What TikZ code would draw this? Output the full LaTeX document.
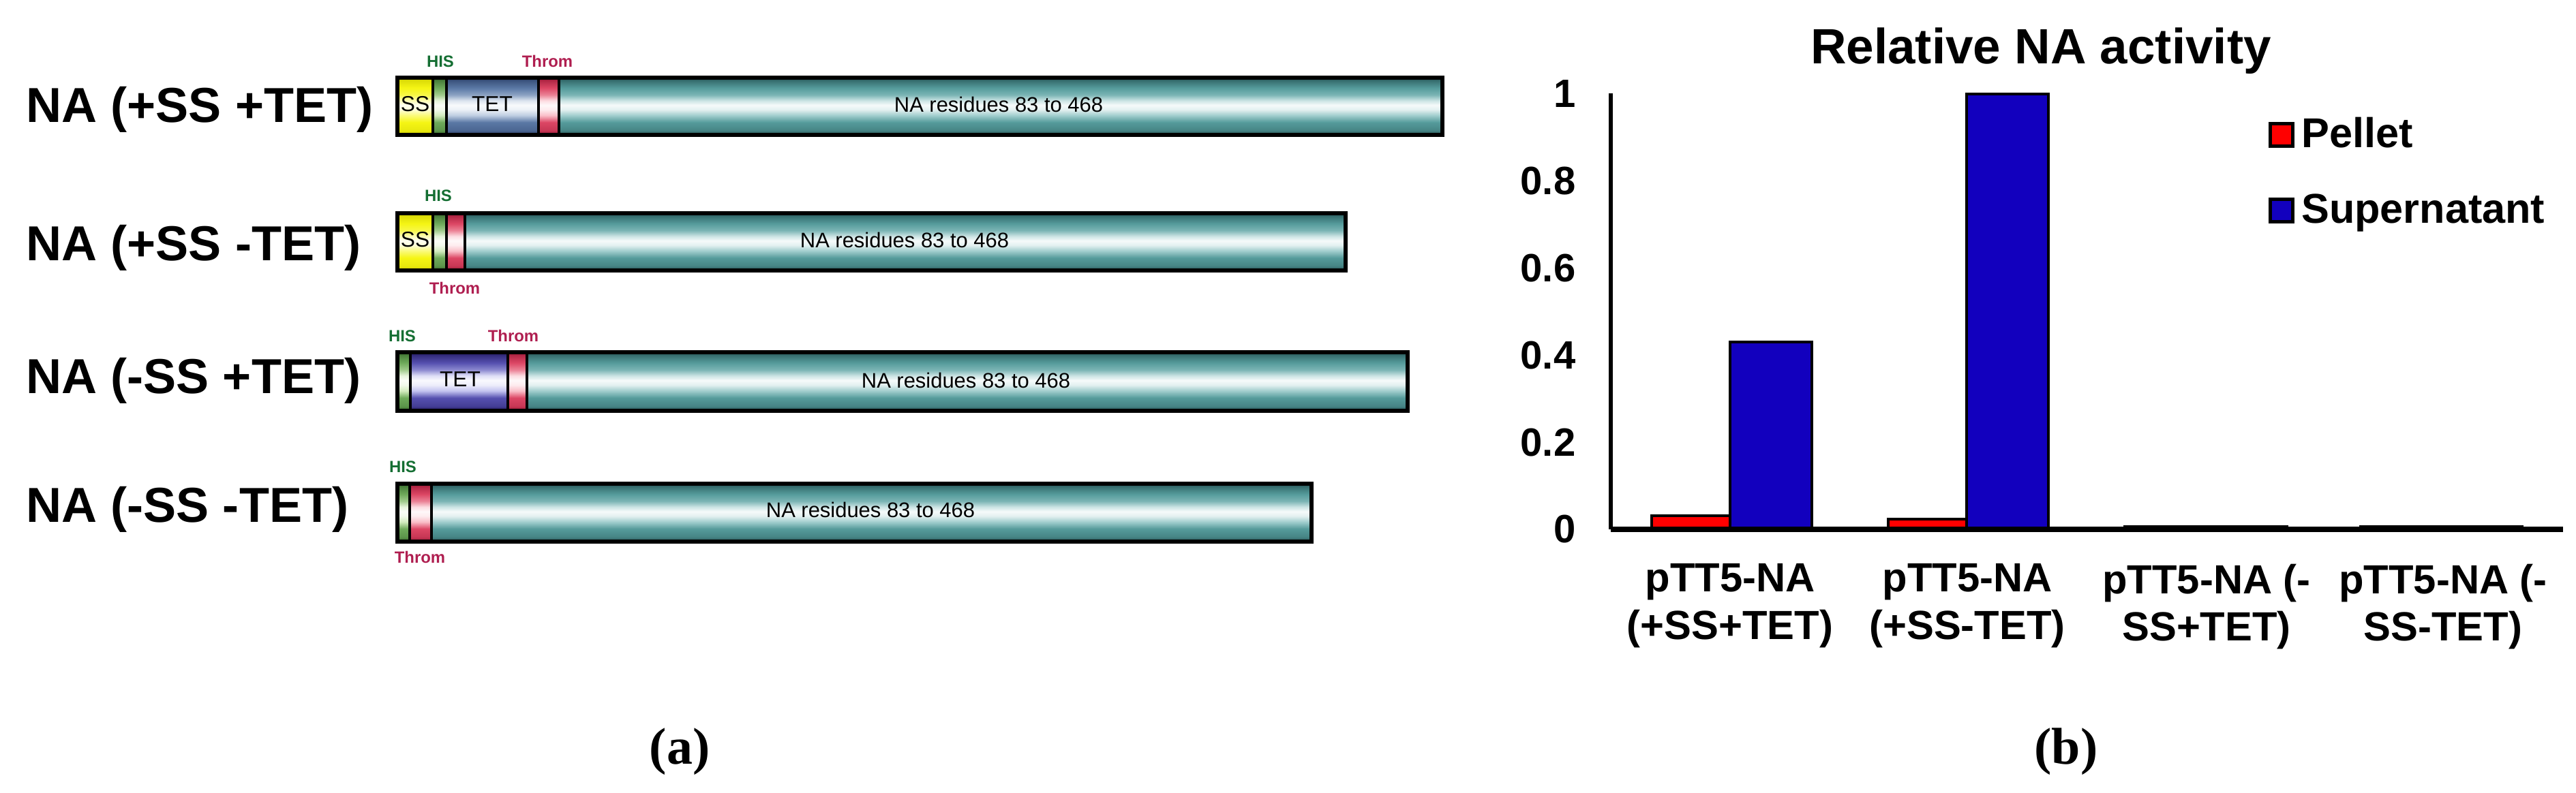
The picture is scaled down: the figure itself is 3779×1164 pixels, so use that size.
\documentclass[tikz,border=0pt]{standalone}
\usepackage{fontspec}
\setmainfont{Liberation Sans}
\newfontfamily\panelfont{Liberation Serif}
\usetikzlibrary{positioning}

% colours of the construct domains
\definecolor{nadark}{RGB}{35,80,82}
\definecolor{namid}{RGB}{85,155,155}
\definecolor{nalight}{RGB}{160,205,205}
\definecolor{ssdark}{RGB}{205,205,0}
\definecolor{ssmid}{RGB}{245,245,20}
\definecolor{sslight}{RGB}{250,250,120}
\definecolor{hisdark}{RGB}{50,100,40}
\definecolor{hismid}{RGB}{110,170,90}
\definecolor{hislight}{RGB}{210,235,190}
\definecolor{tetdark}{RGB}{40,60,100}
\definecolor{tetmid}{RGB}{90,120,165}
\definecolor{tetlight}{RGB}{190,205,225}
\definecolor{tetbdark}{RGB}{30,20,90}
\definecolor{tetbmid}{RGB}{85,80,175}
\definecolor{tetblight}{RGB}{195,195,240}
\definecolor{thrdark}{RGB}{150,20,50}
\definecolor{thrmid}{RGB}{220,70,100}
\definecolor{thrlight}{RGB}{250,190,200}
% colours of the labels and the chart
\definecolor{hisgreen}{RGB}{20,110,50}
\definecolor{thrred}{RGB}{175,30,80}
\definecolor{pelletred}{RGB}{255,0,0}
\definecolor{superblue}{RGB}{18,0,190}

% tube-like shading: dark edges, white highlight near the middle
\newcommand{\tubeshading}[4]{%
  \pgfdeclareverticalshading{#1}{100bp}{color(0bp)=(#2); color(25bp)=(#2);
    color(29bp)=(#3!70!#2); color(36bp)=(#3); color(42bp)=(#4);
    color(47bp)=(#4!30!white); color(51bp)=(#4!10!white); color(55bp)=(#4!55!white);
    color(60bp)=(#4!50!#3); color(66bp)=(#3); color(72bp)=(#3!45!#2);
    color(75bp)=(#2); color(100bp)=(#2)}}
\tubeshading{natube}{nadark}{namid}{nalight}
\tubeshading{sstube}{ssdark}{ssmid}{sslight}
\tubeshading{histube}{hisdark}{hismid}{hislight}
\tubeshading{tettube}{tetdark}{tetmid}{tetlight}
\tubeshading{tetbtube}{tetbdark}{tetbmid}{tetblight}
\tubeshading{thromtube}{thrdark}{thrmid}{thrlight}

\tikzset{
  segbox/.style={draw=black, line width=1.2pt},
  barframe/.style={draw=black, line width=1.8pt},
  construct/.style={inner sep=0pt, font=\fontsize{20.5}{24}\selectfont\bfseries},
  residues/.style={inner sep=0pt, font=\fontsize{8.8}{10}\selectfont},
  boxtext/.style={inner sep=0pt, font=\fontsize{9}{10}\selectfont},
  tagHIS/.style={inner sep=0pt, text=hisgreen, font=\fontsize{6.8}{8}\selectfont\bfseries},
  tagThrom/.style={inner sep=0pt, text=thrred, font=\fontsize{6.8}{8}\selectfont\bfseries},
  charttitle/.style={inner sep=0pt, font=\fontsize{20.7}{24}\selectfont\bfseries},
  ticklab/.style={inner sep=0pt, font=\fontsize{16.5}{19}\selectfont\bfseries},
  catlab/.style={inner sep=0pt, align=center, font=\fontsize{17}{19.8}\selectfont\bfseries},
  keytext/.style={inner sep=0pt, font=\fontsize{17.4}{20}\selectfont\bfseries},
  keybox/.style={draw=black, line width=1.2pt, minimum size=0.33cm, inner sep=0pt},
  pelletbar/.style={fill=pelletred, draw=black, line width=1pt},
  superbar/.style={fill=superblue, draw=black, line width=1pt},
  panelcap/.style={inner sep=0pt, font=\fontsize{21.6}{24}\selectfont\panelfont\bfseries}
}

\begin{document}
\begin{tikzpicture}[x=0.01cm, y=-0.01cm]
  \useasboundingbox (0,0) rectangle (3779,1164);

  % ---- (a) constructs ----
  \node[construct, anchor=base west] (lab1) at (38,180) {NA (+SS +TET)};
  \node[construct, anchor=base west] (lab2) at (38,383) {NA (+SS -TET)};
  \node[construct, anchor=base west] (lab3) at (38,577) {NA (-SS +TET)};
  \node[construct, anchor=base west] (lab4) at (38,766) {NA (-SS -TET)};

  % construct 1
  \shade[segbox, shading=sstube] (583,114) rectangle (635,198);
  \shade[segbox, shading=histube] (635,114) rectangle (655,198);
  \shade[segbox, shading=tettube] (655,114) rectangle (790,198);
  \shade[segbox, shading=thromtube] (790,114) rectangle (820,198);
  \shade[segbox, shading=natube] (820,114) rectangle (2116,198);
  \draw[barframe] (583,114) rectangle (2116,198);
  \node[boxtext] (ss1) at (609,153) {SS};
  \node[boxtext] (tet1) at (722,153) {TET};
  \node[residues] (na1) at (1465,153) {NA residues 83 to 468};
  \node[tagHIS] (his1) at (646,90) {HIS};
  \node[tagThrom] (thr1) at (803,90) {Throm};

  % construct 2
  \shade[segbox, shading=sstube] (583,313) rectangle (635,397);
  \shade[segbox, shading=histube] (635,313) rectangle (655,397);
  \shade[segbox, shading=thromtube] (655,313) rectangle (682,397);
  \shade[segbox, shading=natube] (682,313) rectangle (1974,397);
  \draw[barframe] (583,313) rectangle (1974,397);
  \node[boxtext] (ss2) at (609,352) {SS};
  \node[residues] (na2) at (1327,352) {NA residues 83 to 468};
  \node[tagHIS] (his2) at (643,287) {HIS};
  \node[tagThrom] (thr2) at (667,423) {Throm};

  % construct 3
  \shade[segbox, shading=histube] (583,517) rectangle (602,603);
  \shade[segbox, shading=tetbtube] (602,517) rectangle (745,603);
  \shade[segbox, shading=thromtube] (745,517) rectangle (773,603);
  \shade[segbox, shading=natube] (773,517) rectangle (2065,603);
  \draw[barframe] (583,517) rectangle (2065,603);
  \node[boxtext] (tet3) at (675,557) {TET};
  \node[residues] (na3) at (1417,558) {NA residues 83 to 468};
  \node[tagHIS] (his3) at (590,493) {HIS};
  \node[tagThrom] (thr3) at (753,493) {Throm};

  % construct 4
  \shade[segbox, shading=histube] (583,710) rectangle (601,795);
  \shade[segbox, shading=thromtube] (601,710) rectangle (633,795);
  \shade[segbox, shading=natube] (633,710) rectangle (1924,795);
  \draw[barframe] (583,710) rectangle (1924,795);
  \node[residues] (na4) at (1277,748) {NA residues 83 to 468};
  \node[tagHIS] (his4) at (591,685) {HIS};
  \node[tagThrom] (thr4) at (616,818) {Throm};

  \node[panelcap] (capa) at (997,1103) {(a)};

  % ---- (b) relative NA activity ----
  \node[charttitle, anchor=base] (title) at (2994,94) {Relative NA activity};

  % bars, value v drawn up to 777-639*v
  \draw[pelletbar] (2423,777) rectangle (2538,757);
  \draw[superbar] (2538,777) rectangle (2658,502);
  \draw[pelletbar] (2770,777) rectangle (2885,762);
  \draw[superbar] (2885,777) rectangle (3005,138);
  \draw[pelletbar] (3117,777) rectangle (3236,773);
  \draw[superbar] (3236,777) rectangle (3355,773);
  \draw[pelletbar] (3463,777) rectangle (3582,773);
  \draw[superbar] (3582,777) rectangle (3700,773);

  % axes
  \coordinate (origin) at (2363,777);
  \coordinate (ytop) at (2363,137);
  \coordinate (xend) at (3760,777);
  \draw[line width=1.5pt] (ytop) -- (origin);
  \draw[line width=2pt] (origin) -- (xend);
  \foreach \v [count=\i] in {0,0.2,0.4,0.6,0.8,1}
    \node[ticklab, anchor=east] (ytick\i) at (2312,{777-639*\v}) {\v};

  % categories
  \node[catlab, anchor=north] (cat1) at (2538,827) {pTT5-NA\\(+SS+TET)};
  \node[catlab, anchor=north] (cat2) at (2886,827) {pTT5-NA\\(+SS-TET)};
  \node[catlab, anchor=north] (cat3) at (3237,827) {pTT5-NA (-\\SS+TET)};
  \node[catlab, anchor=north] (cat4) at (3584,827) {pTT5-NA (-\\SS-TET)};

  % legend
  \node[keybox, fill=pelletred] (pelletkey) at (3347,198) {};
  \node[keybox, fill=superblue] (superkey) at (3347,309) {};
  \node[keytext, anchor=base west] (pelletlab) at ([xshift=0.1cm]pelletkey.south east) {Pellet};
  \node[keytext, anchor=base west] (superlab) at ([xshift=0.1cm]superkey.south east) {Supernatant};

  \node[panelcap] (capb) at (3031,1103) {(b)};
\end{tikzpicture}
\end{document}
